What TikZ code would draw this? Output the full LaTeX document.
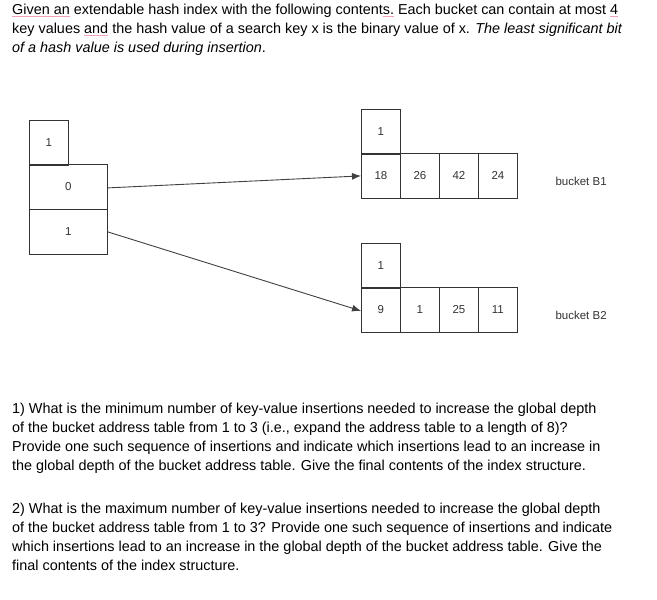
\documentclass[tikz,border=0pt]{standalone}
\usepackage{fontspec}
\setmainfont{Liberation Sans}
\usetikzlibrary{arrows.meta,calc}
\definecolor{pinkline}{HTML}{F4A0B4}
\newcommand\pinku[1]{{\color{pinkline}\underline{\color{black}#1}}}
\begin{document}
\begin{tikzpicture}[x=1pt,y=-1pt,
  cell/.style={draw=black!80,line width=0.8pt,minimum width=39pt,minimum height=45pt,inner sep=0,font=\fontsize{11.5}{13}\selectfont,text=black!80,anchor=north west},
  wcell/.style={cell,minimum width=78pt},
  para/.style={anchor=north west,inner sep=0,align=left,font=\fontsize{14.4}{19}\selectfont},
  arr/.style={draw=black!75,line width=0.9pt,-{Latex[length=9pt,width=7pt]}}]
\useasboundingbox (0,0) rectangle (657,600);
\node[para] (intro) at (12,4) {\pinku{Given an} extendable hash index with the following content\pinku{s.} Each bucket can contain at most \pinku{4}\\key values \pinku{and} the hash value of a search key x is the binary value of x. \textit{The least significant bit}\\\textit{of a hash value is used during insertion}.};
\node[cell] (gd) at (29,120) {1};
\node[wcell] (r0) at (29,164) {0};
\node[wcell] (r1) at (29,209) {1};
\node[cell] (d1) at (361,109) {1};
\node[cell] (a1) at (361,153) {18};
\node[cell] (a2) at (400,153) {26};
\node[cell] (a3) at (439,153) {42};
\node[cell] (a4) at (478,153) {24};
\node[anchor=west,font=\fontsize{11.5}{13}\selectfont,text=black!80] (l1) at (552,181) {bucket B1};
\node[cell] (d2) at (361,243) {1};
\node[cell] (b1) at (361,287) {9};
\node[cell] (b2) at (400,287) {1};
\node[cell] (b3) at (439,287) {25};
\node[cell] (b4) at (478,287) {11};
\node[anchor=west,font=\fontsize{11.5}{13}\selectfont,text=black!80] (l2) at (552,315) {bucket B2};
\draw[arr] ($(r0.east)+(0,1)$) -- (a1.west);
\draw[arr] (r1.east) -- ($(b1.west)+(0,1)$);
\node[para] (q1) at (12,403) {1) What is the minimum number of key-value insertions needed to increase the global depth\\of the bucket address table from 1 to 3 (i.e., expand the address table to a length of 8)?\\Provide one such sequence of insertions and indicate which insertions lead to an increase in\\the global depth of the bucket address table. Give the final contents of the index structure.};
\node[para] (q2) at (12,503) {2) What is the maximum number of key-value insertions needed to increase the global depth\\of the bucket address table from 1 to 3? Provide one such sequence of insertions and indicate\\which insertions lead to an increase in the global depth of the bucket address table. Give the\\final contents of the index structure.};
\end{tikzpicture}
\end{document}
